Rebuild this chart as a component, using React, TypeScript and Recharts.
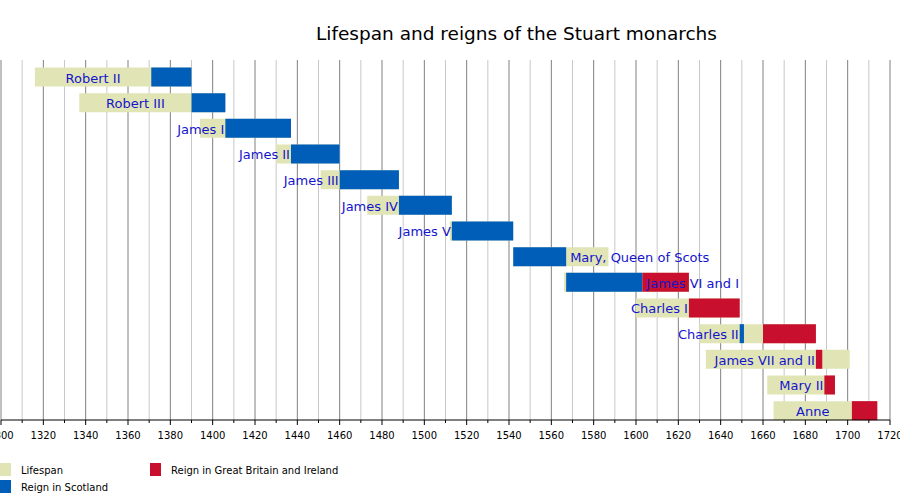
import { BarChart, Bar, XAxis, YAxis, CartesianGrid } from 'recharts'

const monarchs = [
  'Robert II', 'Robert III', 'James I', 'James II', 'James III', 'James IV', 'James V',
  'Mary, Queen of Scots', 'James VI and I', 'Charles I', 'Charles II', 'James VII and II',
  'Mary II', 'Anne',
]
const born = [1316, 1337, 1394, 1430, 1451, 1473, 1512, 1542, 1566, 1600, 1630, 1633, 1662, 1665]
const died = [1390, 1406, 1437, 1460, 1488, 1513, 1542, 1587, 1625, 1649, 1685, 1701, 1694, 1714]
const scotStart = [1371, 1390, 1406, 1437, 1460, 1488, 1513, 1542, 1567, null, 1649, null, null, null]
const scotEnd = [1390, 1406, 1437, 1460, 1488, 1513, 1542, 1567, 1603, null, 1651, null, null, null]
const gbStart = [null, null, null, null, null, null, null, null, 1603, 1625, 1660, 1685, 1689, 1702]
const gbEnd = [null, null, null, null, null, null, null, null, 1625, 1649, 1685, 1688, 1694, 1714]
// where the name sits: centred in the years before the reign, just before the reign, or after it
const labelSide = ['center', 'center', 'before', 'before', 'before', 'before', 'before',
  'after', 'after', 'before', 'before', 'before', 'before', 'center']

const majorTicks = Array.from({ length: 22 }, (_, i) => 1300 + i * 20)
const minorTicks = Array.from({ length: 21 }, (_, i) => 1310 + i * 20)
const allTicks = [...majorTicks, ...minorTicks].sort((a, b) => a - b)

const LIFE = '#e1e5b5'
const SCOT = '#005eb8'
const GB = '#c8102e'
const NAME = '#1414cc'
const FONT = 'DejaVu Sans, sans-serif'

const data = monarchs.map((name, i) => ({
  name,
  life: [born[i], died[i]],
  scot: scotStart[i] != null ? [scotStart[i], scotEnd[i]] : null,
  gb: gbStart[i] != null ? [gbStart[i], gbEnd[i]] : null,
  side: labelSide[i],
  i,
}))

function NameShape(props: any) {
  const { x, y, width, height, payload } = props
  const i = payload.i
  const k = width / (died[i] - born[i])
  const firstStart = scotStart[i] ?? gbStart[i] ?? died[i]
  const firstEnd = scotStart[i] != null ? scotEnd[i] : gbEnd[i]
  const startX = x + (firstStart - born[i]) * k
  let tx = startX - 1
  let anchor = 'end'
  if (payload.side === 'center') {
    tx = (x + startX) / 2
    anchor = 'middle'
  } else if (payload.side === 'after') {
    tx = x + ((firstEnd as number) - born[i]) * k + 4
    anchor = 'start'
  }
  return (
    <text x={tx} y={y + height / 2 + 1} textAnchor={anchor} dominantBaseline="central"
      fill={NAME} fontSize={13} fontFamily={FONT}>
      {payload.name}
    </text>
  )
}

function YearTick(props: any) {
  const { x, y, payload } = props
  const major = payload.value % 20 === 0
  return (
    <g>
      <line x1={x} x2={x} y1={y} y2={y + (major ? 5 : 3)} stroke="#000" />
      {major && (
        <text x={x} y={y + 15} textAnchor="middle" dominantBaseline="central"
          fontSize={10} fontFamily={FONT} fill="#000">
          {payload.value}
        </text>
      )}
    </g>
  )
}

function Legend() {
  const item = (color: string, label: string, left: number, top: number) => (
    <div style={{ position: 'absolute', left, top, display: 'flex', alignItems: 'center' }}>
      <div style={{ width: 11, height: 13, background: color }} />
      <span style={{ marginLeft: 10, marginTop: 3, fontSize: 10, fontFamily: FONT, color: '#000' }}>{label}</span>
    </div>
  )
  return (
    <>
      {item(LIFE, 'Lifespan', 0, 462)}
      {item(SCOT, 'Reign in Scotland', 0, 479)}
      {item(GB, 'Reign in Great Britain and Ireland', 150, 462)}
    </>
  )
}

export default function App() {
  return (
    <div style={{ position: 'absolute', left: 0, top: 0, width: 900, height: 500, background: '#fff' }}>
      <div style={{
        position: 'absolute', left: 316, top: 23, fontSize: 18.5, fontFamily: FONT, color: '#000',
        whiteSpace: 'nowrap',
      }}>
        Lifespan and reigns of the Stuart monarchs
      </div>
      <BarChart width={900} height={500} data={data} layout="vertical"
        margin={{ top: 60, right: 10, left: 1, bottom: 50 }}
        barSize={19} barGap={-19}>
        <CartesianGrid horizontal={false} verticalValues={minorTicks} stroke="#c8c8c8" />
        <CartesianGrid horizontal={false} verticalValues={majorTicks} stroke="#808080" />
        <XAxis type="number" domain={[1300, 1720]} ticks={allTicks} interval={0}
          allowDataOverflow height={30} stroke="#000" tickSize={0} tickMargin={0}
          tickLine={false} tick={<YearTick />} />
        <YAxis type="category" dataKey="name" width={0} tick={false} tickLine={false} stroke="#000"
          padding={{ top: 4.5, bottom: -3.8 }} />
        <Bar dataKey="life" fill={LIFE} isAnimationActive={false} />
        <Bar dataKey="scot" fill={SCOT} isAnimationActive={false} />
        <Bar dataKey="gb" fill={GB} isAnimationActive={false} />
        <Bar dataKey="life" fill="transparent" isAnimationActive={false} shape={NameShape} />
      </BarChart>
      <Legend />
    </div>
  )
}
